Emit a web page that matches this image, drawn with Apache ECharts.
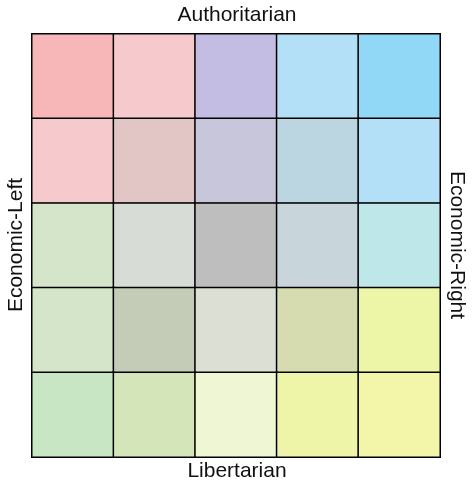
<!DOCTYPE html><html><head><meta charset="utf-8">
<script src="https://cdn.jsdelivr.net/npm/echarts@6/dist/echarts.min.js"></script>
<style>html,body{margin:0;background:#fff}#c{width:474px;height:489px}</style></head><body><div id="c"></div><script>
const xCats=['L2','L1','C','R1','R2'];
const yCats=['Lib2','Lib1','C','Auth1','Auth2'];
const row0=['#f7b6b8','#f6cacd','#c4bde3','#b3e0f6','#90d8f6'];
const row1=['#f6cacd','#e2c6c6','#c8c6da','#bcd6e1','#b3e0f6'];
const row2=['#d5e5c9','#d8dcd6','#bebebe','#c8d6dc','#bde7e8'];
const row3=['#d5e5c9','#c4cbb6','#dcdfd4','#d6dcb0','#edf5a7'];
const row4=['#c8e6c3','#d5e5ba','#eff6d4','#eef5a8','#f3f5a8'];
const rows=[row0,row1,row2,row3,row4];
const data=[];
rows.forEach((r,i)=>r.forEach((c,j)=>data.push({value:[j,4-i,1],itemStyle:{color:c}})));
const f='"Liberation Sans",Arial,sans-serif';
const ch=echarts.init(document.getElementById('c'));
ch.setOption({animation:false,
grid:{left:32,right:34,top:34,bottom:32},
xAxis:{type:'category',data:xCats,show:false},
yAxis:{type:'category',data:yCats,show:false},
series:[{type:'heatmap',data:data,itemStyle:{borderColor:'#000',borderWidth:1.5}}],
graphic:[
{type:'text',left:'center',top:5,style:{text:'Authoritarian',font:'21px '+f,fill:'#111'}},
{type:'text',left:'center',top:461,style:{text:'Libertarian',font:'21px '+f,fill:'#111'}},
{type:'text',x:16,y:245,rotation:Math.PI/2,style:{text:'Economic-Left',font:'21px '+f,fill:'#111',align:'center',verticalAlign:'middle'}},
{type:'text',x:457,y:245,rotation:-Math.PI/2,style:{text:'Economic-Right',font:'21px '+f,fill:'#111',align:'center',verticalAlign:'middle'}}
]});
</script></body></html>
